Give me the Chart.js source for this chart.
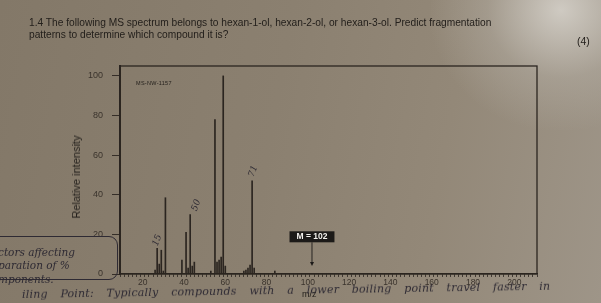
<!DOCTYPE html>
<html>
<head>
<meta charset="utf-8">
<script src="https://cdn.jsdelivr.net/npm/chart.js@4.4.0/dist/chart.umd.min.js"></script>
<style>
  body { margin: 0; }
  #page {
    position: relative; width: 601px; height: 303px; overflow: hidden;
    background: linear-gradient(100deg, #837868 0%, #8b8070 45%, #938878 72%, #9e9588 100%);
    font-family: "Liberation Sans", Arial, sans-serif; color: #24201c;
  }
  #glare {
    position: absolute; right: -90px; top: -110px; width: 260px; height: 240px;
    background: radial-gradient(ellipse at center, rgba(225,222,216,0.75) 0%, rgba(190,185,176,0.35) 40%, rgba(160,150,138,0) 72%);
  }
  canvas { position: absolute; left: 0; top: 0; }
  .t { position: absolute; white-space: nowrap; }
  .hand { position: absolute; white-space: nowrap; font-family: "DejaVu Serif", serif; font-style: italic; color: #2e2a33; }
  #note {
    position: absolute; left: -12px; top: 236px; width: 128px; height: 42px;
    border: 1.3px solid #2e2a33; border-radius: 9px;
  }
</style>
</head>
<body>
<div id="page">
  <div id="glare"></div>
  <canvas id="ms" width="601" height="303"></canvas>
  <div class="t" style="left:29px; top:17px; font-size:10.2px;">1.4 The following MS spectrum belongs to hexan-1-ol, hexan-2-ol, or hexan-3-ol. Predict fragmentation</div>
  <div class="t" style="left:29px; top:29px; font-size:10.2px;">patterns to determine which compound it is?</div>
  <div class="t" style="left:577px; top:35px; font-size:10.5px;">(4)</div>
  <div class="t" style="left:136px; top:80px; font-size:5.5px; letter-spacing:0.3px;">MS-NW-1157</div>
  <div class="t" style="left:76px; top:177px; font-size:11px; transform:translate(-50%,-50%) rotate(-90deg); transform-origin:center;">Relative intensity</div>
  <div class="t" style="left:302px; top:289px; font-size:9px;">m/z</div>

  <div id="note"></div>
  <div class="hand" style="left:-2px; top:246px; font-size:10.5px;">ctors affecting</div>
  <div class="hand" style="left:-2px; top:259px; font-size:10.5px;">paration of %</div>
  <div class="hand" style="left:-2px; top:273px; font-size:10.5px;">mponents.</div>
  <div class="hand" style="left:22px; top:288px; font-size:11px; letter-spacing:0.2px; word-spacing:9px; transform:rotate(-0.9deg); transform-origin:left center;">iling Point: Typically compounds with a lower boiling point travel faster in</div>
  <div class="hand" style="left:151px; top:235px; font-size:9px; transform:rotate(-70deg);">15</div>
  <div class="hand" style="left:190px; top:200px; font-size:9px; transform:rotate(-70deg);">50</div>
  <div class="hand" style="left:247px; top:166px; font-size:9px; transform:rotate(-70deg);">71</div>
</div>
<script>
// MS peaks (m/z, relative intensity %)
const mzValues = [26, 27, 28, 29, 30, 31, 39, 41, 42, 43, 44, 45, 53, 55, 56, 57, 58, 59, 60, 69, 70, 71, 72, 73, 74, 84];
const intensities = [2, 13, 5, 12, 1.5, 38.5, 7, 21, 3, 30, 4, 6, 1.5, 78, 6, 7, 8.5, 100, 4, 1.5, 2, 3, 4.5, 47, 3, 1.5];
const xTickLabels = [20, 40, 60, 80, 100, 120, 140, 160, 180, 200];
const yTickLabels = [0, 20, 40, 60, 80, 100];
const molecularIon = 102;

const ink = '#2b2520';

// frame round the plot + the "M = 102" marker
const frame = {
  id: 'frame',
  afterDraw(chart) {
    const { ctx, chartArea: a, scales } = chart;
    ctx.save();
    ctx.strokeStyle = ink;
    ctx.lineWidth = 1.3;
    ctx.strokeRect(a.left, a.top, a.right - a.left, a.bottom - a.top);

    const x = scales.x.getPixelForValue(molecularIon);
    const yTop = scales.y.getPixelForValue(16);
    ctx.font = 'bold 8.5px "Liberation Sans", Arial, sans-serif';
    const label = 'M = ' + molecularIon;
    const w = ctx.measureText(label).width + 14;
    ctx.fillStyle = '#1c1a18';
    ctx.fillRect(x - w / 2, yTop - 11, w, 11);
    ctx.fillStyle = '#f2f0ec';
    ctx.textAlign = 'center';
    ctx.textBaseline = 'middle';
    ctx.fillText(label, x, yTop - 5.3);
    // arrow
    const yEnd = scales.y.getPixelForValue(4);
    ctx.strokeStyle = '#1c1a18';
    ctx.lineWidth = 0.9;
    ctx.beginPath();
    ctx.moveTo(x, yTop);
    ctx.lineTo(x, yEnd - 3);
    ctx.stroke();
    ctx.beginPath();
    ctx.moveTo(x - 2, yEnd - 4);
    ctx.lineTo(x + 2, yEnd - 4);
    ctx.lineTo(x, yEnd);
    ctx.closePath();
    ctx.fillStyle = '#1c1a18';
    ctx.fill();
    ctx.restore();
  }
};

new Chart(document.getElementById('ms'), {
  type: 'bar',
  data: {
    datasets: [{
      data: mzValues.map((m, i) => ({ x: m, y: intensities[i] })),
      backgroundColor: ink,
      barThickness: 1
    }]
  },
  options: {
    responsive: false,
    animation: false,
    devicePixelRatio: 1,
    layout: { padding: { left: 80, right: 64, top: 66, bottom: 0 } },
    plugins: { legend: { display: false }, tooltip: { enabled: false } },
    scales: {
      x: {
        type: 'linear',
        min: 10, max: 210,
        afterFit: s => { s.height = 29; },
        afterBuildTicks: s => {
          const t = [];
          for (let v = 10; v <= 210; v += 2) t.push({ value: v });
          s.ticks = t;
        },
        ticks: {
          autoSkip: false, maxRotation: 0,
          font: { size: 8.5, family: '"Liberation Sans", Arial, sans-serif' },
          color: '#3a332c', padding: 1,
          callback: v => xTickLabels.includes(v) ? String(v) : ''
        },
        grid: { drawOnChartArea: false, tickLength: 3, color: ink, tickWidth: 0.8 },
        border: { display: true, color: ink, width: 1.3 }
      },
      y: {
        min: 0, max: 105,
        afterFit: s => { s.width = 40; },
        afterBuildTicks: s => { s.ticks = yTickLabels.map(v => ({ value: v })); },
        ticks: {
          font: { size: 9, family: '"Liberation Sans", Arial, sans-serif' },
          color: '#3a332c', padding: 9
        },
        grid: { drawOnChartArea: false, tickLength: 8, color: ink, tickWidth: 0.9 },
        border: { display: true, color: ink, width: 2 }
      }
    }
  },
  plugins: [frame]
});
</script>
</body>
</html>
